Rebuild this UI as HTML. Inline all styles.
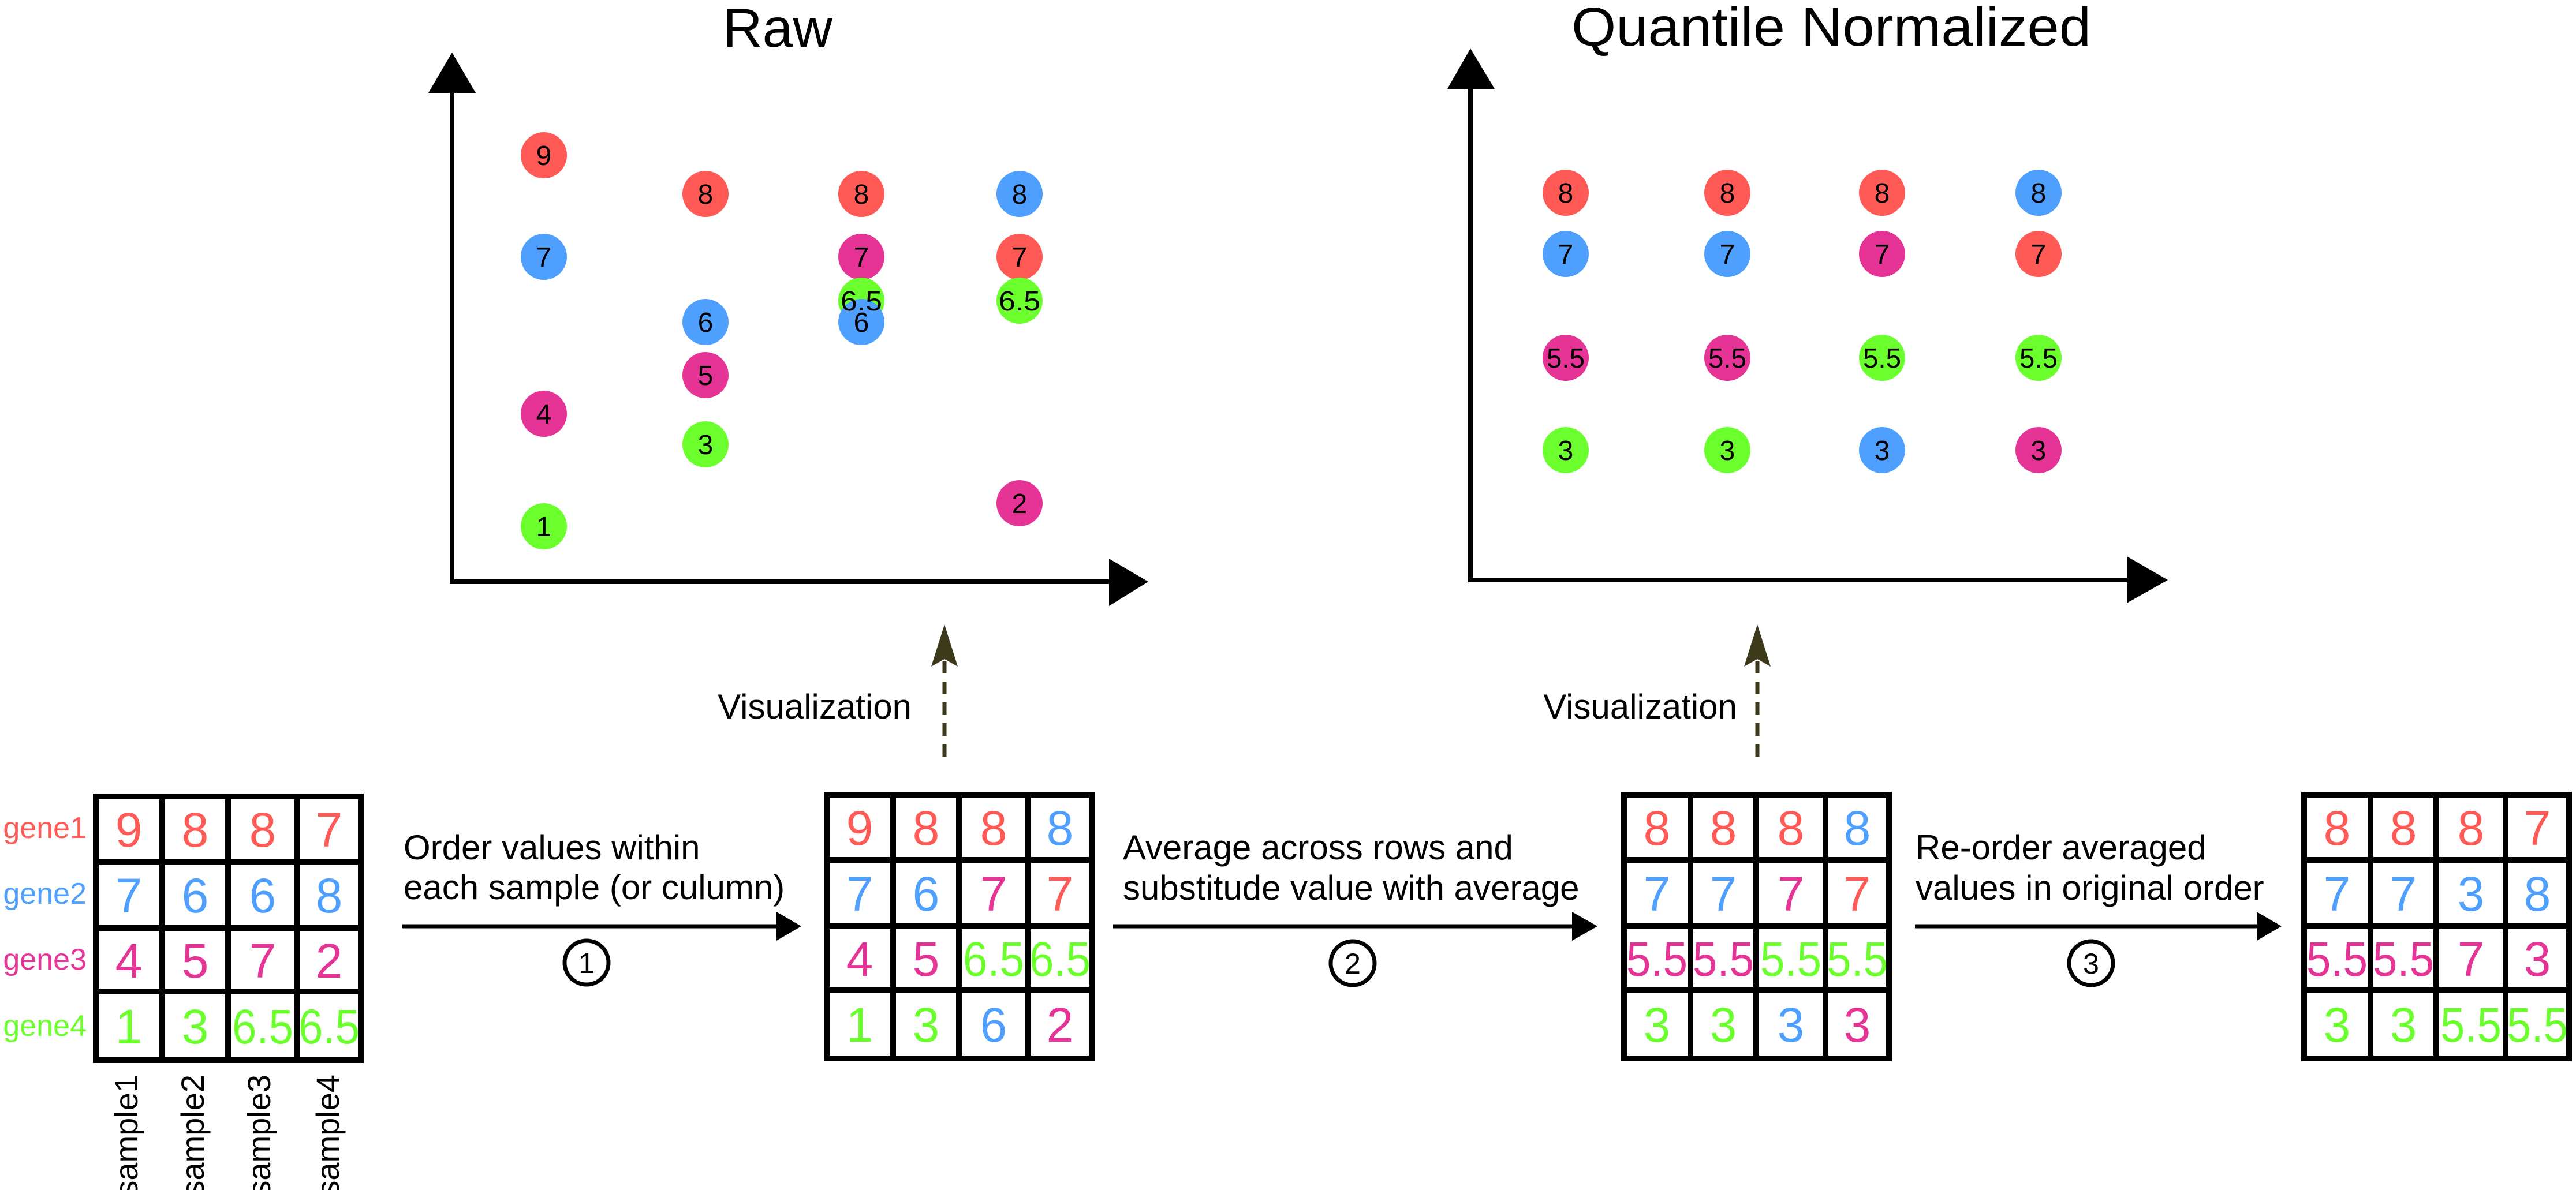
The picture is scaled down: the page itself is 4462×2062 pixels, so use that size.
<!DOCTYPE html>
<html><head><meta charset="utf-8"><style>
html,body{margin:0;padding:0;background:#fff;}
svg{display:block;}
text{font-family:"Liberation Sans",sans-serif;}
.r{fill:#ff5a55}.b{fill:#4f9fff}.m{fill:#e63496}.g{fill:#6cff2e}
.cell{font-size:84px;text-anchor:middle}
.ct{font-size:48px;text-anchor:middle;fill:#000}
.lbl{font-size:60px;fill:#000}
</style></head><body>
<svg width="4462" height="2062" viewBox="0 0 4462 2062" xmlns="http://www.w3.org/2000/svg">
<text x="1347" y="81" font-size="95" text-anchor="middle">Raw</text>
<text x="3172" y="79" font-size="95" text-anchor="middle" textLength="900" lengthAdjust="spacingAndGlyphs">Quantile Normalized</text>

<g stroke="#000" stroke-width="8" fill="none">
<line x1="783" y1="150" x2="783" y2="1008"/>
<line x1="779" y1="1008" x2="1925" y2="1008"/>
<line x1="2547" y1="145" x2="2547" y2="1005"/>
<line x1="2543" y1="1005" x2="3690" y2="1005"/>
</g>
<polygon points="783,91 742,161 824,161" fill="#000"/>
<polygon points="1921,968 1989,1008 1921,1050" fill="#000"/>
<polygon points="2547,84 2507,154 2589,154" fill="#000"/>
<polygon points="3684,964 3755,1005 3684,1045" fill="#000"/>

<g>
<circle cx="942" cy="269" r="40" class="r"/>
<circle cx="1222" cy="336" r="40" class="r"/>
<circle cx="1492" cy="336" r="40" class="r"/>
<circle cx="1766" cy="336" r="40" class="b"/>
<circle cx="942" cy="445" r="40" class="b"/>
<circle cx="1492" cy="445" r="40" class="m"/>
<circle cx="1766" cy="445" r="40" class="r"/>
<circle cx="1492" cy="521" r="40" class="g"/>
<circle cx="1766" cy="521" r="40" class="g"/>
<circle cx="1492" cy="558" r="40" class="b"/>
<circle cx="1222" cy="558" r="40" class="b"/>
<circle cx="1222" cy="650" r="40" class="m"/>
<circle cx="942" cy="717" r="40" class="m"/>
<circle cx="1222" cy="770" r="40" class="g"/>
<circle cx="1766" cy="872" r="40" class="m"/>
<circle cx="942" cy="912" r="40" class="g"/>
</g>
<g>
<text x="942" y="286" class="ct">9</text>
<text x="1222" y="353" class="ct">8</text>
<text x="1492" y="353" class="ct">8</text>
<text x="1766" y="353" class="ct">8</text>
<text x="942" y="462" class="ct">7</text>
<text x="1492" y="462" class="ct">7</text>
<text x="1766" y="462" class="ct">7</text>
<text x="1492" y="538" class="ct" textLength="72" lengthAdjust="spacingAndGlyphs">6.5</text>
<text x="1766" y="538" class="ct" textLength="72" lengthAdjust="spacingAndGlyphs">6.5</text>
<text x="1492" y="575" class="ct">6</text>
<text x="1222" y="575" class="ct">6</text>
<text x="1222" y="667" class="ct">5</text>
<text x="942" y="734" class="ct">4</text>
<text x="1222" y="787" class="ct">3</text>
<text x="1766" y="889" class="ct">2</text>
<text x="942" y="929" class="ct">1</text>
</g>

<g>
<circle cx="2712" cy="334" r="40" class="r"/><circle cx="2992" cy="334" r="40" class="r"/><circle cx="3260" cy="334" r="40" class="r"/><circle cx="3531" cy="334" r="40" class="b"/>
<circle cx="2712" cy="440" r="40" class="b"/><circle cx="2992" cy="440" r="40" class="b"/><circle cx="3260" cy="440" r="40" class="m"/><circle cx="3531" cy="440" r="40" class="r"/>
<circle cx="2712" cy="620" r="40" class="m"/><circle cx="2992" cy="620" r="40" class="m"/><circle cx="3260" cy="620" r="40" class="g"/><circle cx="3531" cy="620" r="40" class="g"/>
<circle cx="2712" cy="780" r="40" class="g"/><circle cx="2992" cy="780" r="40" class="g"/><circle cx="3260" cy="780" r="40" class="b"/><circle cx="3531" cy="780" r="40" class="m"/>
</g>
<g>
<text x="2712" y="351" class="ct">8</text><text x="2992" y="351" class="ct">8</text><text x="3260" y="351" class="ct">8</text><text x="3531" y="351" class="ct">8</text>
<text x="2712" y="457" class="ct">7</text><text x="2992" y="457" class="ct">7</text><text x="3260" y="457" class="ct">7</text><text x="3531" y="457" class="ct">7</text>
<text x="2712" y="637" class="ct" textLength="66" lengthAdjust="spacingAndGlyphs">5.5</text><text x="2992" y="637" class="ct" textLength="66" lengthAdjust="spacingAndGlyphs">5.5</text><text x="3260" y="637" class="ct" textLength="66" lengthAdjust="spacingAndGlyphs">5.5</text><text x="3531" y="637" class="ct" textLength="66" lengthAdjust="spacingAndGlyphs">5.5</text>
<text x="2712" y="797" class="ct">3</text><text x="2992" y="797" class="ct">3</text><text x="3260" y="797" class="ct">3</text><text x="3531" y="797" class="ct">3</text>
</g>

<g stroke="#3d3a1c" stroke-width="7" stroke-dasharray="22 14">
<line x1="1636" y1="1311" x2="1636" y2="1145"/>
<line x1="3044" y1="1311" x2="3044" y2="1145"/>
</g>
<polygon points="1636,1082 1613,1155 1636,1142 1659,1155" fill="#3d3a1c"/>
<polygon points="3044,1082 3021,1155 3044,1142 3067,1155" fill="#3d3a1c"/>
<text x="1579" y="1245" class="lbl" text-anchor="end">Visualization</text>
<text x="3009" y="1245" class="lbl" text-anchor="end">Visualization</text>

<g stroke="#000" stroke-width="7">
<line x1="697" y1="1605" x2="1350" y2="1605"/>
<line x1="1928" y1="1605" x2="2728" y2="1605"/>
<line x1="3317" y1="1605" x2="3914" y2="1605"/>
</g>
<polygon points="1345,1580 1388,1605 1345,1630" fill="#000"/>
<polygon points="2723,1580 2767,1605 2723,1630" fill="#000"/>
<polygon points="3909,1580 3952,1605 3909,1630" fill="#000"/>
<g fill="none" stroke="#000" stroke-width="7">
<circle cx="1016" cy="1668" r="38"/>
<circle cx="2343" cy="1669" r="38"/>
<circle cx="3622" cy="1669" r="38"/>
</g>
<text x="1016" y="1686" font-size="50" text-anchor="middle">1</text>
<text x="2343" y="1687" font-size="50" text-anchor="middle">2</text>
<text x="3622" y="1687" font-size="50" text-anchor="middle">3</text>
<text x="699" y="1489" class="lbl">Order values within</text>
<text x="699" y="1558" class="lbl">each sample (or culumn)</text>
<text x="1945" y="1489" class="lbl">Average across rows and</text>
<text x="1945" y="1559" class="lbl">substitude value with average</text>
<text x="3318" y="1489" class="lbl">Re-order averaged</text>
<text x="3318" y="1559" class="lbl">values in original order</text>

<g font-size="52" text-anchor="end">
<text x="150" y="1452" class="r">gene1</text>
<text x="150" y="1566" class="b">gene2</text>
<text x="150" y="1680" class="m">gene3</text>
<text x="150" y="1795" class="g">gene4</text>
</g>
<g font-size="56" text-anchor="end" fill="#000">
<text transform="translate(238,1862) rotate(-90)">sample1</text>
<text transform="translate(353,1862) rotate(-90)">sample2</text>
<text transform="translate(468,1862) rotate(-90)">sample3</text>
<text transform="translate(587,1862) rotate(-90)">sample4</text>
</g>

<defs>
<g id="grid" fill="none" stroke="#000" stroke-width="10">
<rect x="0" y="0" width="459" height="457"/>
<line x1="115" y1="0" x2="115" y2="457"/>
<line x1="229" y1="0" x2="229" y2="457"/>
<line x1="349" y1="0" x2="349" y2="457"/>
<line x1="0" y1="113" x2="459" y2="113"/>
<line x1="0" y1="228" x2="459" y2="228"/>
<line x1="0" y1="338" x2="459" y2="338"/>
</g>
</defs>

<g transform="translate(166,1380)">
<use href="#grid"/>
<g class="cell">
<text x="57" y="87" class="r">9</text><text x="172" y="87" class="r">8</text><text x="289" y="87" class="r">8</text><text x="404" y="87" class="r">7</text>
<text x="57" y="201" class="b">7</text><text x="172" y="201" class="b">6</text><text x="289" y="201" class="b">6</text><text x="404" y="201" class="b">8</text>
<text x="57" y="314" class="m">4</text><text x="172" y="314" class="m">5</text><text x="289" y="314" class="m">7</text><text x="404" y="314" class="m">2</text>
<text x="57" y="428" class="g">1</text><text x="172" y="428" class="g">3</text><text x="289" y="428" class="g" textLength="106" lengthAdjust="spacingAndGlyphs">6.5</text><text x="404" y="428" class="g" textLength="106" lengthAdjust="spacingAndGlyphs">6.5</text>
</g></g>

<g transform="translate(1432,1377)">
<use href="#grid"/>
<g class="cell">
<text x="57" y="87" class="r">9</text><text x="172" y="87" class="r">8</text><text x="289" y="87" class="r">8</text><text x="404" y="87" class="b">8</text>
<text x="57" y="201" class="b">7</text><text x="172" y="201" class="b">6</text><text x="289" y="201" class="m">7</text><text x="404" y="201" class="r">7</text>
<text x="57" y="314" class="m">4</text><text x="172" y="314" class="m">5</text><text x="289" y="314" class="g" textLength="106" lengthAdjust="spacingAndGlyphs">6.5</text><text x="404" y="314" class="g" textLength="106" lengthAdjust="spacingAndGlyphs">6.5</text>
<text x="57" y="428" class="g">1</text><text x="172" y="428" class="g">3</text><text x="289" y="428" class="b">6</text><text x="404" y="428" class="m">2</text>
</g></g>

<g transform="translate(2813,1377)">
<use href="#grid"/>
<g class="cell">
<text x="57" y="87" class="r">8</text><text x="172" y="87" class="r">8</text><text x="289" y="87" class="r">8</text><text x="404" y="87" class="b">8</text>
<text x="57" y="201" class="b">7</text><text x="172" y="201" class="b">7</text><text x="289" y="201" class="m">7</text><text x="404" y="201" class="r">7</text>
<text x="57" y="314" class="m" textLength="106" lengthAdjust="spacingAndGlyphs">5.5</text><text x="172" y="314" class="m" textLength="106" lengthAdjust="spacingAndGlyphs">5.5</text><text x="289" y="314" class="g" textLength="106" lengthAdjust="spacingAndGlyphs">5.5</text><text x="404" y="314" class="g" textLength="106" lengthAdjust="spacingAndGlyphs">5.5</text>
<text x="57" y="428" class="g">3</text><text x="172" y="428" class="g">3</text><text x="289" y="428" class="b">3</text><text x="404" y="428" class="m">3</text>
</g></g>

<g transform="translate(3991,1377)">
<use href="#grid"/>
<g class="cell">
<text x="57" y="87" class="r">8</text><text x="172" y="87" class="r">8</text><text x="289" y="87" class="r">8</text><text x="404" y="87" class="r">7</text>
<text x="57" y="201" class="b">7</text><text x="172" y="201" class="b">7</text><text x="289" y="201" class="b">3</text><text x="404" y="201" class="b">8</text>
<text x="57" y="314" class="m" textLength="106" lengthAdjust="spacingAndGlyphs">5.5</text><text x="172" y="314" class="m" textLength="106" lengthAdjust="spacingAndGlyphs">5.5</text><text x="289" y="314" class="m">7</text><text x="404" y="314" class="m">3</text>
<text x="57" y="428" class="g">3</text><text x="172" y="428" class="g">3</text><text x="289" y="428" class="g" textLength="106" lengthAdjust="spacingAndGlyphs">5.5</text><text x="404" y="428" class="g" textLength="106" lengthAdjust="spacingAndGlyphs">5.5</text>
</g></g>
</svg>
</body></html>
